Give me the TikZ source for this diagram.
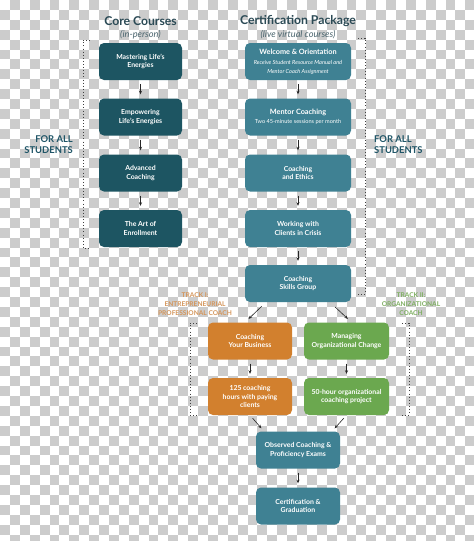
\documentclass[tikz,border=0pt]{standalone}
\usepackage{fontspec}
\setmainfont{Lato}
\usetikzlibrary{arrows.meta}
\definecolor{cDark}{HTML}{1D5562}
\definecolor{cMid}{HTML}{3F8193}
\definecolor{cOrange}{HTML}{D2802E}
\definecolor{cGreen}{HTML}{6BA84F}
\definecolor{cTitle}{HTML}{2B4A55}
\definecolor{cForall}{HTML}{1F5567}
\definecolor{cTrkA}{HTML}{D4955A}
\definecolor{cTrkB}{HTML}{7FAF62}
\begin{document}
\begin{tikzpicture}[x=1pt,y=-1pt,
  box/.style={rounded corners=5pt, inner sep=0pt, minimum height=37pt, align=center, text=white, font=\fontsize{6.9}{8.7}\selectfont\bfseries},
  lbox/.style={box, fill=cDark, minimum width=83pt},
  rbox/.style={box, fill=cMid, minimum width=106pt},
  obox/.style={box, fill=cOrange, minimum width=84pt},
  gbox/.style={box, fill=cGreen, minimum width=85pt},
  cbox/.style={box, fill=cMid, minimum width=84pt},
  arr/.style={-{Stealth[length=3.5pt,width=3pt]}, line width=0.6pt, black!85},
  dotbr/.style={line width=0.9pt, dash pattern=on 0.9pt off 2.2pt, black!75},
  titletext/.style={font=\fontsize{12.2}{14}\selectfont\bfseries, text=cTitle, inner sep=0pt},
  subtext/.style={font=\fontsize{9.2}{10}\selectfont\itshape, text=cTitle!85, inner sep=0pt},
  foralltext/.style={font=\fontsize{9.4}{11}\selectfont\bfseries, text=cForall, inner sep=0pt},
  tracktext/.style={font=\fontsize{6.6}{9}\selectfont\bfseries, inner sep=0pt, align=center}
]
\useasboundingbox (0,0) rectangle (474,541);
\fill[white] (0,0) rectangle (474,541);
\foreach \i in {0,...,47}{\foreach \j in {0,...,54}{%
  \pgfmathtruncatemacro{\cpar}{mod(\i+\j,2)}%
  \ifnum\cpar=1 \fill[black!20] (\i*9.9,\j*9.9) rectangle ++(9.9,9.9);\fi
}}

% titles
\node[titletext] (coretitle) at (140.5,21) {Core Courses};
\node[subtext] (coresub) at (140.5,34.5) {(in-person)};
\node[titletext] (certtitle) at (298,21) {Certification Package};
\node[subtext] (certsub) at (298,34.5) {(live virtual courses)};

% left column
\node[lbox] (l1) at (140.5,61.5) {Mastering Life's\\Energies};
\node[lbox] (l2) at (140.5,117) {Empowering\\Life's Energies};
\node[lbox] (l3) at (140.5,173) {Advanced\\Coaching};
\node[lbox] (l4) at (140.5,228.5) {The Art of\\Enrollment};

% right column
\node[rbox] (r1) at (298,61.5) {{\fontsize{7.3}{9}\selectfont\bfseries Welcome \& Orientation}\\[1.5pt]
  {\fontsize{5.6}{6.8}\selectfont\itshape\mdseries Receive Student Resource Manual and}\\
  {\fontsize{5.6}{6.8}\selectfont\itshape\mdseries Mentor Coach Assignment}};
\node[rbox] (r2) at (298,117) {{\fontsize{7.3}{9}\selectfont\bfseries Mentor Coaching}\\
  {\fontsize{5.6}{6.8}\selectfont\mdseries Two 45-minute sessions per month}};
\node[rbox] (r3) at (298,173) {Coaching\\and Ethics};
\node[rbox] (r4) at (298,228.5) {Working with\\Clients in Crisis};
\node[rbox] (r5) at (298,283.5) {Coaching\\Skills Group};

% tracks
\node[obox] (o1) at (250,341) {Coaching\\Your Business};
\node[obox] (o2) at (250,396.5) {125 coaching\\hours with paying\\clients};
\node[gbox] (g1) at (346.5,341) {Managing\\Organizational Change};
\node[gbox] (g2) at (346.5,396.5) {50-hour organizational\\coaching project};
\node[cbox] (c1) at (298,450) {Observed Coaching \&\\Proficiency Exams};
\node[cbox] (c2) at (298,506) {Certification \&\\Graduation};

% side labels
\node[foralltext, anchor=east, align=right] (fall) at (73,144.5) {FOR ALL\\STUDENTS};
\node[foralltext, anchor=west, align=left] (falr) at (374,144.5) {FOR ALL\\STUDENTS};
\node[tracktext, text=cTrkA] (t1) at (195,304) {TRACK I:\\ENTREPRENEURIAL\\PROFESSIONAL COACH};
\node[tracktext, text=cTrkB] (t2) at (411,304) {TRACK II:\\ORGANIZATIONAL\\COACH};

% dotted brackets
\draw[dotbr] (90,40) -- (83,40) -- (83,248) -- (90,248);
\draw[dotbr] (358,38) -- (365,38) -- (365,294) -- (358,294);
\draw[dotbr] (197,323) -- (190,323) -- (190,415) -- (197,415);
\draw[dotbr] (402,323) -- (409,323) -- (409,415) -- (402,415);

% arrows
\foreach \a/\b in {l1/l2,l2/l3,l3/l4,r1/r2,r2/r3,r3/r4,r4/r5,o1/o2,g1/g2,c1/c2}
  \draw[arr, shorten <=4pt, shorten >=4pt] (\a) -- (\b);
\draw[arr, shorten <=6pt, shorten >=5pt] ([xshift=-32pt]r5.south) -- ([xshift=-5pt]o1.north);
\draw[arr, shorten <=7pt, shorten >=5pt] ([xshift=32pt]r5.south) -- ([xshift=5pt]g1.north);
\draw[arr, shorten <=4pt, shorten >=4pt] (o2.south) -- ([xshift=-34pt]c1.north);
\draw[arr, shorten <=4pt, shorten >=4pt] (g2.south) -- ([xshift=34pt]c1.north);
\end{tikzpicture}
\end{document}
